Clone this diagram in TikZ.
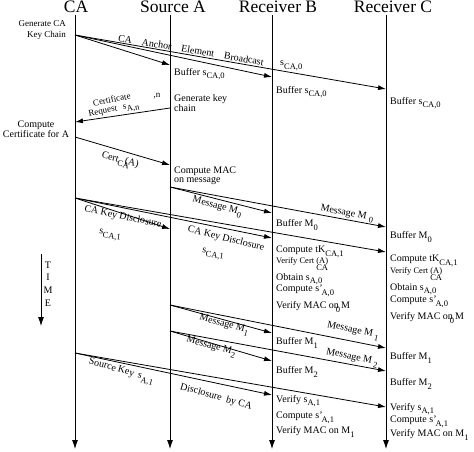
\documentclass[tikz,border=0pt]{standalone}
\usepackage{fontspec}
\setmainfont{Liberation Serif}
\usetikzlibrary{arrows.meta}
\newcommand{\lsub}[1]{\raisebox{-0.35em}{\fontsize{8.5}{8.5}\selectfont #1}}
\begin{document}
\begin{tikzpicture}[x=1pt,y=-1pt,
  msg/.style={line width=0.8pt, -{Latex[length=8pt,width=5pt]}},
  life/.style={line width=0.8pt, -{Latex[length=9pt,width=6pt]}},
  hdr/.style={font=\fontsize{17.5}{18}\selectfont, inner sep=0pt, anchor=base},
  act/.style={anchor=west, inner sep=0pt, font=\fontsize{10}{9}\selectfont, align=left},
  sml/.style={anchor=west, inner sep=0pt, font=\fontsize{8.5}{9}\selectfont},
  lbl/.style={inner sep=0pt, font=\fontsize{10}{11}\selectfont},
  slbl/.style={inner sep=0pt, font=\fontsize{9}{9}\selectfont},
]
\useasboundingbox (0,0) rectangle (474,452);
% headers
\node[hdr] (hCA) at (76,13) {CA};
\node[hdr] (hA) at (173,13) {Source A};
\node[hdr] (hB) at (278,13) {Receiver B};
\node[hdr] (hC) at (393,13) {Receiver C};
% lifelines
\coordinate (ca0) at (75,15);  \coordinate (caE) at (75,449);
\coordinate (a0) at (170,15);  \coordinate (aE) at (170,449);
\coordinate (b0) at (272,15);  \coordinate (bE) at (272,449);
\coordinate (c0) at (386,15);  \coordinate (cE) at (386,449);
\draw[life] (ca0) -- (caE);
\draw[life] (a0) -- (aE);
\draw[life] (b0) -- (bE);
\draw[life] (c0) -- (cE);
% time arrow
\coordinate (t0) at (41,254); \coordinate (t1) at (41,326);
\draw[life] (t0) -- (t1);
\node[inner sep=0pt, align=center, font=\fontsize{10}{12.7}\selectfont] (time) at (48,284) {T\\I\\M\\E};
% message endpoints
\coordinate (ca1) at (75,35);
\coordinate (a1) at (170,65); \coordinate (b1) at (272,77); \coordinate (c1) at (386,89);
\coordinate (a2) at (170,108); \coordinate (ca2) at (75,122);
\coordinate (ca3) at (75,137); \coordinate (a3) at (170,165);
\coordinate (a4) at (170,187); \coordinate (b4) at (272,213); \coordinate (c4) at (386,227);
\coordinate (ca5) at (75,198); \coordinate (a5) at (170,229); \coordinate (b5) at (272,238); \coordinate (c5) at (386,252);
\coordinate (a6) at (170,305); \coordinate (b6) at (272,333); \coordinate (c6) at (386,348);
\coordinate (a7) at (170,331); \coordinate (b7) at (272,361); \coordinate (c7) at (386,371);
\coordinate (ca8) at (75,353); \coordinate (b8) at (272,395); \coordinate (c8) at (386,407);
% messages
\draw[msg] (ca1) -- (a1);
\draw[msg] (ca1) -- (b1);
\draw[msg] (ca1) -- (c1);
\draw[msg] (a2) -- (ca2);
\draw[msg] (ca3) -- (a3);
\draw[msg] (a4) -- (b4);
\draw[msg] (a4) -- (c4);
\draw[msg] (ca5) -- (a5);
\draw[msg] (ca5) -- (b5);
\draw[msg] (ca5) -- (c5);
\draw[msg] (a6) -- (b6);
\draw[msg] (a6) -- (c6);
\draw[msg] (a7) -- (b7);
\draw[msg] (a7) -- (c7);
\draw[msg] (ca8) -- (b8);
\draw[msg] (ca8) -- (c8);
% CA side texts
\node[inner sep=0pt, align=right, anchor=east, font=\fontsize{9}{11}\selectfont] (gen) at (66,30) {Generate CA\\Key Chain};
\node[inner sep=0pt, align=center, font=\fontsize{10}{8.5}\selectfont] (comp) at (36,129) {Compute\\Certificate for A};
% message labels
\node[lbl, rotate=-9.5] (lanchor) at (191,50) {CA\hspace{10pt}Anchor\hspace{10pt}Element\hspace{10pt}Broadcast};
\node[lbl, anchor=west] (lsca0) at (280,66) {s\lsub{CA,0}};
\node[slbl, rotate=11, align=center] (lreq) at (113,106) {Certificate\\Request\hspace{6pt}s\lsub{A,n}};
\node[slbl] (lreqn) at (157,96) {,n};
\node[lbl, rotate=-15] (lcert) at (120,161) {Cert\lsub{CA}\hspace{-5pt}(A)};
\node[lbl, rotate=-15] (lm0a) at (217,207) {Message M\lsub{0}};
\node[lbl, rotate=-10] (lm0b) at (347,214) {Message M\hspace{3pt}\lsub{0}};
\node[lbl, rotate=-12] (lkd1) at (123,217) {CA Key Disclosure};
\node[lbl, rotate=-8] (lkd1s) at (110,235) {s\lsub{CA,1}};
\node[lbl, rotate=-14] (lkd2) at (226,239) {CA Key Disclosure};
\node[lbl, rotate=-8] (lkd2s) at (213,254) {s\lsub{CA,1}};
\node[lbl, rotate=-15] (lm1a) at (224,325) {Message M\lsub{1}};
\node[lbl, rotate=-12] (lm1b) at (353,331) {Message M\hspace{2pt}\lsub{1}};
\node[lbl, rotate=-15] (lm2a) at (211,347) {Message M\lsub{2}};
\node[lbl, rotate=-12] (lm2b) at (352,358) {Message M\hspace{2pt}\lsub{2}};
\node[lbl, rotate=-16] (lsk) at (121,372) {Source Key\hspace{4pt}s\lsub{A,1}};
\node[lbl, rotate=-16] (ldc) at (216,397) {Disclosure\hspace{5pt}by CA};
% Source A actions
\node[act] (aBuf) at (174,74) {Buffer s\lsub{CA,0}};
\node[act] (aGen) at (174,103) {Generate key\\chain};
\node[act] (aMac) at (174,176) {Compute MAC\\on message};
% Receiver B actions
\node[act] (bBuf) at (276,92) {Buffer s\lsub{CA,0}};
\node[act] (bM0) at (276,225) {Buffer M\lsub{0}};
\node[act] (bTK) at (276,252) {Compute tK\lsub{CA,1}};
\node[sml] (bVC) at (276,264) {Verify Cert \rlap{(A)}\raisebox{-0.8em}{CA}};
\node[act] (bOb) at (276,279) {Obtain s\lsub{A,0}};
\node[act] (bCs) at (276,291) {Compute s’\hspace{-1pt}\lsub{A,0}};
\node[act] (bVM) at (276,307) {Verify MAC on\hspace{-3pt}\lsub{0}\hspace{1pt}M};
\node[act] (bM1) at (276,343) {Buffer M\lsub{1}};
\node[act] (bM2) at (276,372) {Buffer M\lsub{2}};
\node[act] (bVs) at (276,401) {Verify s\lsub{A,1}};
\node[act] (bCs1) at (276,418) {Compute s’\hspace{-1pt}\lsub{A,1}};
\node[act] (bVM1) at (276,432) {Verify MAC on M\lsub{1}};
% Receiver C actions
\node[act] (cBuf) at (390,103) {Buffer s\lsub{CA,0}};
\node[act] (cM0) at (390,237) {Buffer M\lsub{0}};
\node[act] (cTK) at (390,261) {Compute tK\lsub{CA,1}};
\node[sml] (cVC) at (390,274) {Verify Cert \rlap{(A)}\raisebox{-0.8em}{CA}};
\node[act] (cOb) at (390,289) {Obtain s\lsub{A,0}};
\node[act] (cCs) at (390,302) {Compute s’\hspace{-1pt}\lsub{A,0}};
\node[act] (cVM) at (390,318) {Verify MAC on\hspace{-3pt}\lsub{0}\hspace{1pt}M};
\node[act] (cM1) at (390,358) {Buffer M\lsub{1}};
\node[act] (cM2) at (390,384) {Buffer M\lsub{2}};
\node[act] (cVs) at (390,409) {Verify s\lsub{A,1}};
\node[act] (cCs1) at (390,422) {Compute s’\hspace{-1pt}\lsub{A,1}};
\node[act] (cVM1) at (390,435) {Verify MAC on M\lsub{1}};
\end{tikzpicture}
\end{document}
